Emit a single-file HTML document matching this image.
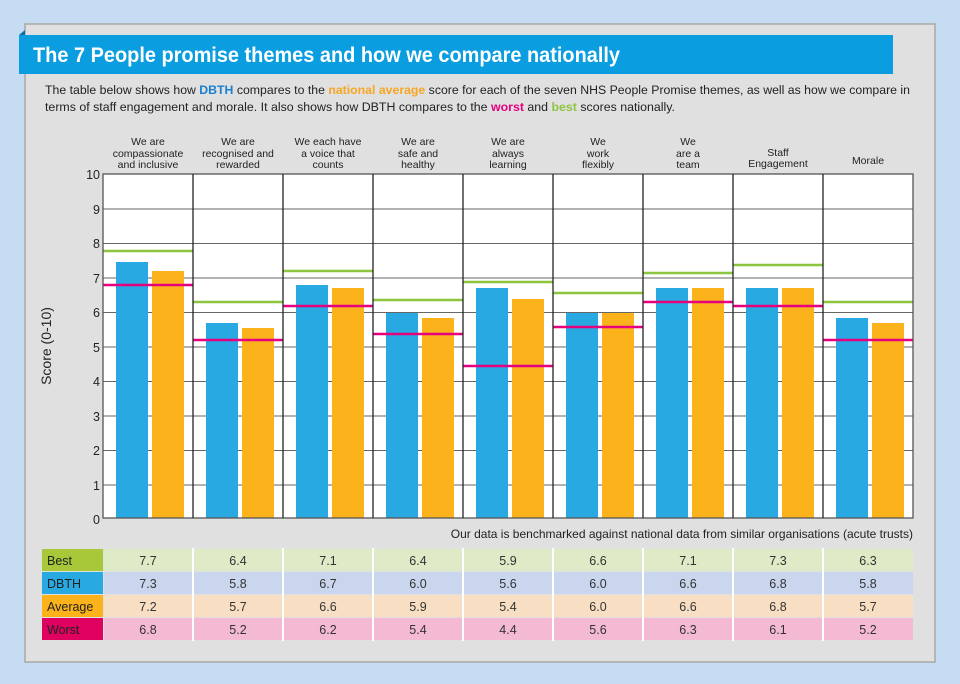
<!DOCTYPE html>
<html><head><meta charset="utf-8"><style>
body{margin:0;width:960px;height:679px;background:#c6dcf2;overflow:hidden;font-family:"Liberation Sans",sans-serif}
</style></head><body>
<svg width="960" height="679" xmlns="http://www.w3.org/2000/svg" font-family="Liberation Sans, sans-serif">
<rect x="25" y="24" width="910" height="638" fill="#e0e0e0" stroke="#a8a8a8" stroke-width="1.5"/>
<polygon points="19,35 25,30 25,35" fill="#0a6fa8"/>
<rect x="19" y="35" width="874" height="39" fill="#0a9de0"/>
<text x="33" y="62" font-size="21" font-weight="bold" fill="#fff" textLength="587" lengthAdjust="spacingAndGlyphs">The 7 People promise themes and how we compare nationally</text>
<text x="45" y="94" font-size="12.3" fill="#222" textLength="865" lengthAdjust="spacingAndGlyphs">The table below shows how <tspan fill="#1a7fd0" font-weight="bold">DBTH</tspan> compares to the <tspan fill="#f6a623" font-weight="bold">national average</tspan> score for each of the seven NHS People Promise themes, as well as how we compare in</text>
<text x="45" y="111" font-size="12.3" fill="#222" textLength="630" lengthAdjust="spacingAndGlyphs">terms of staff engagement and morale. It also shows how DBTH compares to the <tspan fill="#e6007e" font-weight="bold">worst</tspan> and <tspan fill="#8cc63f" font-weight="bold">best</tspan> scores nationally.</text>
<rect x="103" y="174" width="810" height="344" fill="#fff"/>
<g stroke="#666" stroke-width="1">
<line x1="103" y1="209" x2="913" y2="209"/><line x1="103" y1="243.5" x2="913" y2="243.5"/><line x1="103" y1="278" x2="913" y2="278"/><line x1="103" y1="312.5" x2="913" y2="312.5"/><line x1="103" y1="347" x2="913" y2="347"/><line x1="103" y1="381.5" x2="913" y2="381.5"/><line x1="103" y1="416" x2="913" y2="416"/><line x1="103" y1="450.5" x2="913" y2="450.5"/><line x1="103" y1="485" x2="913" y2="485"/>
</g>
<g font-size="12.5" fill="#222" text-anchor="end">
<text x="100" y="179">10</text><text x="100" y="214">9</text><text x="100" y="248">8</text><text x="100" y="283">7</text><text x="100" y="317">6</text><text x="100" y="352">5</text><text x="100" y="386">4</text><text x="100" y="421">3</text><text x="100" y="455">2</text><text x="100" y="490">1</text><text x="100" y="524">0</text>
</g>
<text transform="translate(51,346) rotate(-90)" font-size="14" fill="#222" text-anchor="middle">Score (0-10)</text>
<g>
<rect x="116" y="262" width="32" height="256" fill="#29a9e1"/><rect x="152" y="271" width="32" height="247" fill="#fbb21b"/>
<rect x="206" y="323" width="32" height="195" fill="#29a9e1"/><rect x="242" y="328" width="32" height="190" fill="#fbb21b"/>
<rect x="296" y="285" width="32" height="233" fill="#29a9e1"/><rect x="332" y="288" width="32" height="230" fill="#fbb21b"/>
<rect x="386" y="313" width="32" height="205" fill="#29a9e1"/><rect x="422" y="318" width="32" height="200" fill="#fbb21b"/>
<rect x="476" y="288" width="32" height="230" fill="#29a9e1"/><rect x="512" y="299" width="32" height="219" fill="#fbb21b"/>
<rect x="566" y="313" width="32" height="205" fill="#29a9e1"/><rect x="602" y="313" width="32" height="205" fill="#fbb21b"/>
<rect x="656" y="288" width="32" height="230" fill="#29a9e1"/><rect x="692" y="288" width="32" height="230" fill="#fbb21b"/>
<rect x="746" y="288" width="32" height="230" fill="#29a9e1"/><rect x="782" y="288" width="32" height="230" fill="#fbb21b"/>
<rect x="836" y="318" width="32" height="200" fill="#29a9e1"/><rect x="872" y="323" width="32" height="195" fill="#fbb21b"/>
</g>
<g stroke-width="2.5">
<line x1="103" x2="193" y1="251" y2="251" stroke="#8cc63f"/><line x1="103" x2="193" y1="285" y2="285" stroke="#e6007e"/>
<line x1="193" x2="283" y1="302" y2="302" stroke="#8cc63f"/><line x1="193" x2="283" y1="340" y2="340" stroke="#e6007e"/>
<line x1="283" x2="373" y1="271" y2="271" stroke="#8cc63f"/><line x1="283" x2="373" y1="306" y2="306" stroke="#e6007e"/>
<line x1="373" x2="463" y1="300" y2="300" stroke="#8cc63f"/><line x1="373" x2="463" y1="334" y2="334" stroke="#e6007e"/>
<line x1="463" x2="553" y1="282" y2="282" stroke="#8cc63f"/><line x1="463" x2="553" y1="366" y2="366" stroke="#e6007e"/>
<line x1="553" x2="643" y1="293" y2="293" stroke="#8cc63f"/><line x1="553" x2="643" y1="327" y2="327" stroke="#e6007e"/>
<line x1="643" x2="733" y1="273" y2="273" stroke="#8cc63f"/><line x1="643" x2="733" y1="302" y2="302" stroke="#e6007e"/>
<line x1="733" x2="823" y1="265" y2="265" stroke="#8cc63f"/><line x1="733" x2="823" y1="306" y2="306" stroke="#e6007e"/>
<line x1="823" x2="913" y1="302" y2="302" stroke="#8cc63f"/><line x1="823" x2="913" y1="340" y2="340" stroke="#e6007e"/>
</g>
<g stroke="#222" stroke-width="1.3" fill="none">
<rect x="103" y="174" width="810" height="344" stroke="#555"/>
<line x1="193" y1="174" x2="193" y2="518"/><line x1="283" y1="174" x2="283" y2="518"/><line x1="373" y1="174" x2="373" y2="518"/><line x1="463" y1="174" x2="463" y2="518"/><line x1="553" y1="174" x2="553" y2="518"/><line x1="643" y1="174" x2="643" y2="518"/><line x1="733" y1="174" x2="733" y2="518"/><line x1="823" y1="174" x2="823" y2="518"/>
</g>
<g font-size="10.5" fill="#222" text-anchor="middle">
<text x="148" y="145">We are</text><text x="148" y="157">compassionate</text><text x="148" y="168">and inclusive</text>
<text x="238" y="145">We are</text><text x="238" y="157">recognised and</text><text x="238" y="168">rewarded</text>
<text x="328" y="145">We each have</text><text x="328" y="157">a voice that</text><text x="328" y="168">counts</text>
<text x="418" y="145">We are</text><text x="418" y="157">safe and</text><text x="418" y="168">healthy</text>
<text x="508" y="145">We are</text><text x="508" y="157">always</text><text x="508" y="168">learning</text>
<text x="598" y="145">We</text><text x="598" y="157">work</text><text x="598" y="168">flexibly</text>
<text x="688" y="145">We</text><text x="688" y="157">are a</text><text x="688" y="168">team</text>
<text x="778" y="156">Staff</text><text x="778" y="167">Engagement</text>
<text x="868" y="164">Morale</text>
</g>
<text x="913" y="538" font-size="12" fill="#222" text-anchor="end">Our data is benchmarked against national data from similar organisations (acute trusts)</text>
<g>
<rect x="104" y="549" width="809" height="22" fill="#dfeac6"/>
<rect x="104" y="572" width="809" height="22" fill="#c9d6ee"/>
<rect x="104" y="595" width="809" height="22" fill="#f8dfc3"/>
<rect x="104" y="618" width="809" height="22" fill="#f4bad4"/>
</g>
<g stroke="#fff" stroke-width="2">
<line x1="193" y1="548" x2="193" y2="641"/><line x1="283" y1="548" x2="283" y2="641"/><line x1="373" y1="548" x2="373" y2="641"/><line x1="463" y1="548" x2="463" y2="641"/><line x1="553" y1="548" x2="553" y2="641"/><line x1="643" y1="548" x2="643" y2="641"/><line x1="733" y1="548" x2="733" y2="641"/><line x1="823" y1="548" x2="823" y2="641"/>
</g>
<g font-size="12.5">
<rect x="42" y="549" width="61" height="22" fill="#a8c83a"/><text x="47" y="565" fill="#222">Best</text>
<rect x="42" y="572" width="61" height="22" fill="#29a9e1"/><text x="47" y="588" fill="#222">DBTH</text>
<rect x="42" y="595" width="61" height="22" fill="#fbb21b"/><text x="47" y="611" fill="#222">Average</text>
<rect x="42" y="618" width="61" height="22" fill="#e0005f"/><text x="47" y="634" fill="#222">Worst</text>
</g>
<g font-size="12.5" fill="#333" text-anchor="middle">
<text x="148" y="565">7.7</text><text x="238" y="565">6.4</text><text x="328" y="565">7.1</text><text x="418" y="565">6.4</text><text x="508" y="565">5.9</text><text x="598" y="565">6.6</text><text x="688" y="565">7.1</text><text x="778" y="565">7.3</text><text x="868" y="565">6.3</text>
<text x="148" y="588">7.3</text><text x="238" y="588">5.8</text><text x="328" y="588">6.7</text><text x="418" y="588">6.0</text><text x="508" y="588">5.6</text><text x="598" y="588">6.0</text><text x="688" y="588">6.6</text><text x="778" y="588">6.8</text><text x="868" y="588">5.8</text>
<text x="148" y="611">7.2</text><text x="238" y="611">5.7</text><text x="328" y="611">6.6</text><text x="418" y="611">5.9</text><text x="508" y="611">5.4</text><text x="598" y="611">6.0</text><text x="688" y="611">6.6</text><text x="778" y="611">6.8</text><text x="868" y="611">5.7</text>
<text x="148" y="634">6.8</text><text x="238" y="634">5.2</text><text x="328" y="634">6.2</text><text x="418" y="634">5.4</text><text x="508" y="634">4.4</text><text x="598" y="634">5.6</text><text x="688" y="634">6.3</text><text x="778" y="634">6.1</text><text x="868" y="634">5.2</text>
</g>
</svg>
</body></html>
